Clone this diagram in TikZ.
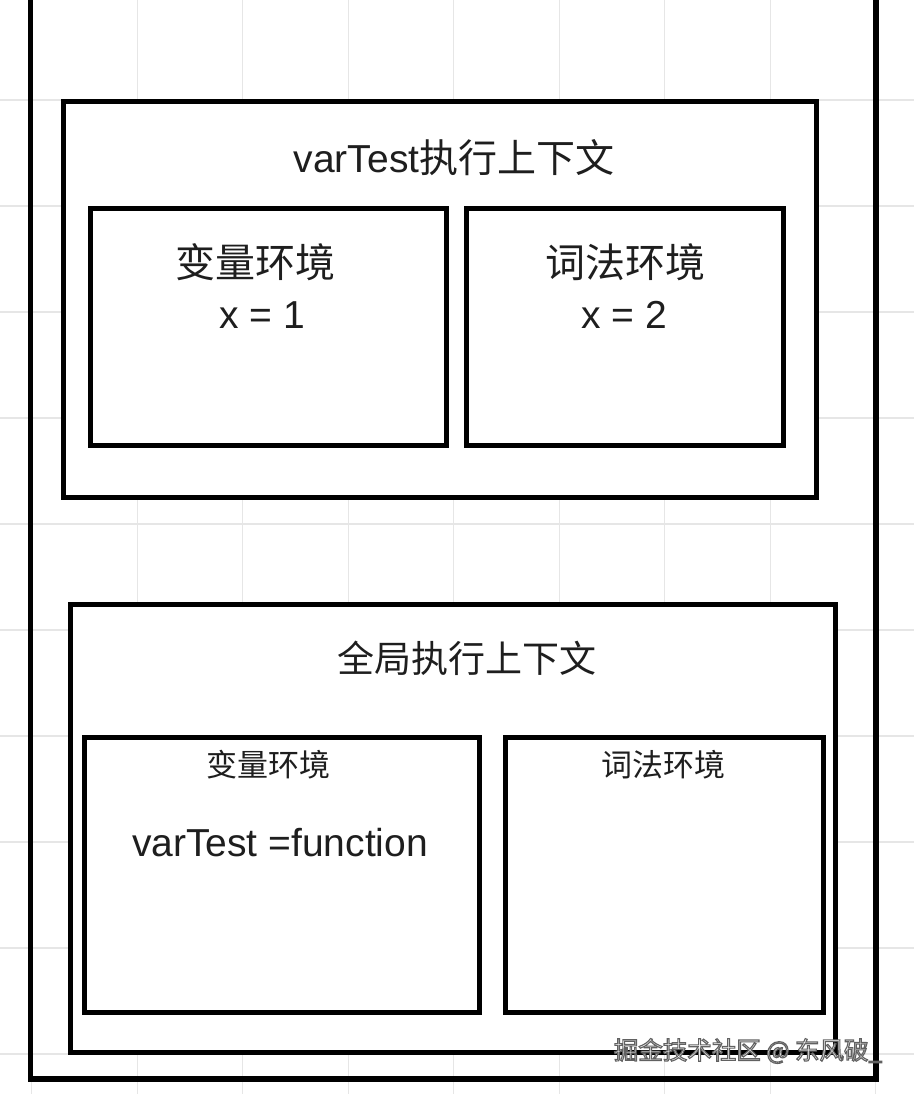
\documentclass[tikz,border=0pt]{standalone}
\usepackage{fontspec}
\setmainfont{Liberation Sans}
\newfontfamily\cjk{Noto Sans CJK SC}
\definecolor{gridc}{HTML}{E6E6E6}
\definecolor{txt}{HTML}{1E1E1E}
\begin{document}
\begin{tikzpicture}[x=1pt,y=-1pt,
  box/.style={draw=black, line width=5pt, fill=white},
  outerbox/.style={draw=black, line width=5.5pt},
  gridline/.style={draw=gridc, line width=1.3pt},
  lbl/.style={inner sep=0pt, text=txt, font=\fontsize{39}{47}\selectfont},
  cjklbl/.style={inner sep=0pt, text=txt, font=\fontsize{40}{48}\selectfont\cjk},
  ttl/.style={inner sep=0pt, text=txt, font=\fontsize{39}{47}\selectfont},
  sml/.style={inner sep=0pt, text=txt, font=\fontsize{31}{37}\selectfont\cjk},
  wm/.style={inner sep=0pt, font=\fontsize{24.5}{29}\selectfont\cjk},
  ]
\useasboundingbox (0,0) rectangle (914,1094);
\fill[white] (0,0) rectangle (914,1094);
% background grid
\foreach \i in {0,...,8} \draw[gridline] ({31.8+105.5*\i},0) -- ({31.8+105.5*\i},1094);
\foreach \j in {0,...,9} \draw[gridline] (0,{100+106*\j}) -- (914,{100+106*\j});
% outer frame (top edge lies above the picture)
\draw[outerbox] (30.5,-20) rectangle (876,1079);
% varTest execution context
\draw[box] (63,102) rectangle (816,497);
\draw[box] (90,208) rectangle (446,445);
\draw[box] (466,208) rectangle (783,445);
\node[ttl] (vtitle) at (454,158) {varTest{\cjk 执行上下文}};
\node[cjklbl] (vvar) at (255,262) {变量环境};
\node[lbl] (vx1) at (262,315) {x = 1};
\node[cjklbl] (vlex) at (625,262) {词法环境};
\node[lbl] (vx2) at (624,315) {x = 2};
% global execution context
\draw[box] (70,604) rectangle (835,1052);
\draw[box] (84,737) rectangle (479,1012);
\draw[box] (505,737) rectangle (823,1012);
\node[ttl, font=\fontsize{37}{44}\selectfont\cjk] (gtitle) at (467,658) {全局执行上下文};
\node[sml] (gvar) at (268,765) {变量环境};
\node[lbl] (gfun) at (280,843) {varTest =function};
\node[sml] (glex) at (663,765) {词法环境};
% watermark: white text with a grey outline
\node[wm, text=white] (wmark) at (748,1051)
  {\special{pdf:literal direct 2 Tr 1.1 w 0.38 G}掘金技术社区 @ 东风破\_\special{pdf:literal direct 0 Tr}};
\end{tikzpicture}
\end{document}
